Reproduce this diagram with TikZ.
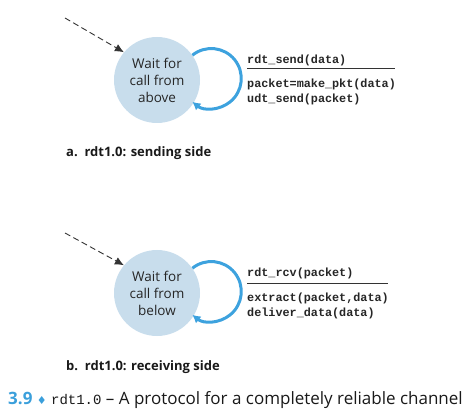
\documentclass[tikz,border=0pt]{standalone}
\usepackage{fontspec}
\setmainfont{Open Sans}
\setmonofont{Liberation Mono}
\newfontfamily\dejavu{DejaVu Sans}
\usetikzlibrary{arrows.meta}
\definecolor{stateblue}{HTML}{C8DDEC}
\definecolor{loopblue}{HTML}{3DA2DE}
\definecolor{capblue}{HTML}{3A9FDB}
\definecolor{darkline}{HTML}{333333}
\tikzset{
  state/.style={circle, fill=stateblue, minimum size=86pt, inner sep=0pt, align=center,
    font=\fontsize{13.5}{17}\selectfont, text=black!85},
  loopar/.style={draw=loopblue, line width=3pt, -{Latex[length=8pt,width=9pt]}},
  initar/.style={draw=darkline, line width=0.9pt, dash pattern=on 6pt off 3.5pt, -{Latex[length=9pt,width=8pt]}},
  evt/.style={anchor=west, inner sep=0pt, font=\ttfamily\bfseries\fontsize{11.8}{15}\selectfont, text=black!85},
  act/.style={anchor=west, inner sep=0pt, align=left, font=\ttfamily\bfseries\fontsize{11.8}{15}\selectfont, text=black!85},
  rule/.style={draw=darkline, line width=1pt},
  subcap/.style={anchor=west, inner sep=0pt, font=\bfseries\fontsize{13}{15}\selectfont, text=black!90},
  figcap/.style={anchor=base west, inner sep=0pt, font=\fontsize{17}{20}\selectfont, text=black!90}
}
\begin{document}
\begin{tikzpicture}[x=1pt,y=-1pt]
\useasboundingbox (0,0) rectangle (474,414);
% sending side
\node[state] (s1) at (157,80) {Wait for\\call from\\above};
\coordinate (d1) at (65,18);
\draw[initar] (d1) -- (s1.140);
\draw[loopar] (s1.35) arc[start angle=-129, end angle=129, radius=30];
\node[evt] (e1) at (247,60) {rdt\_send(data)};
\coordinate (r1a) at (247,69);
\coordinate (r1b) at (395,69);
\draw[rule] (r1a) -- (r1b);
\node[act] (a1) at (247,91.5) {packet=make\_pkt(data)\\udt\_send(packet)};
\node[subcap] (c1) at (66,153) {a.\ \ rdt1.0: sending side};
% receiving side
\node[state] (s2) at (157,293) {Wait for\\call from\\below};
\coordinate (d2) at (65,233);
\draw[initar] (d2) -- (s2.140);
\draw[loopar] (s2.35) arc[start angle=-129, end angle=129, radius=30];
\node[evt] (e2) at (247,273) {rdt\_rcv(packet)};
\coordinate (r2a) at (247,283);
\coordinate (r2b) at (388,283);
\draw[rule] (r2a) -- (r2b);
\node[act] (a2) at (247,305.5) {extract(packet,data)\\deliver\_data(data)};
\node[subcap] (c2) at (66,367) {b.\ \ rdt1.0: receiving side};
% figure caption
\node[figcap] (fc) at (8,404) {\textcolor{capblue}{\bfseries 3.9\ {\dejavu\fontsize{11}{12}\selectfont ♦}}\ {\ttfamily\fontsize{14}{16}\selectfont rdt1.0} – A protocol for a completely reliable channel};
\end{tikzpicture}
\end{document}
